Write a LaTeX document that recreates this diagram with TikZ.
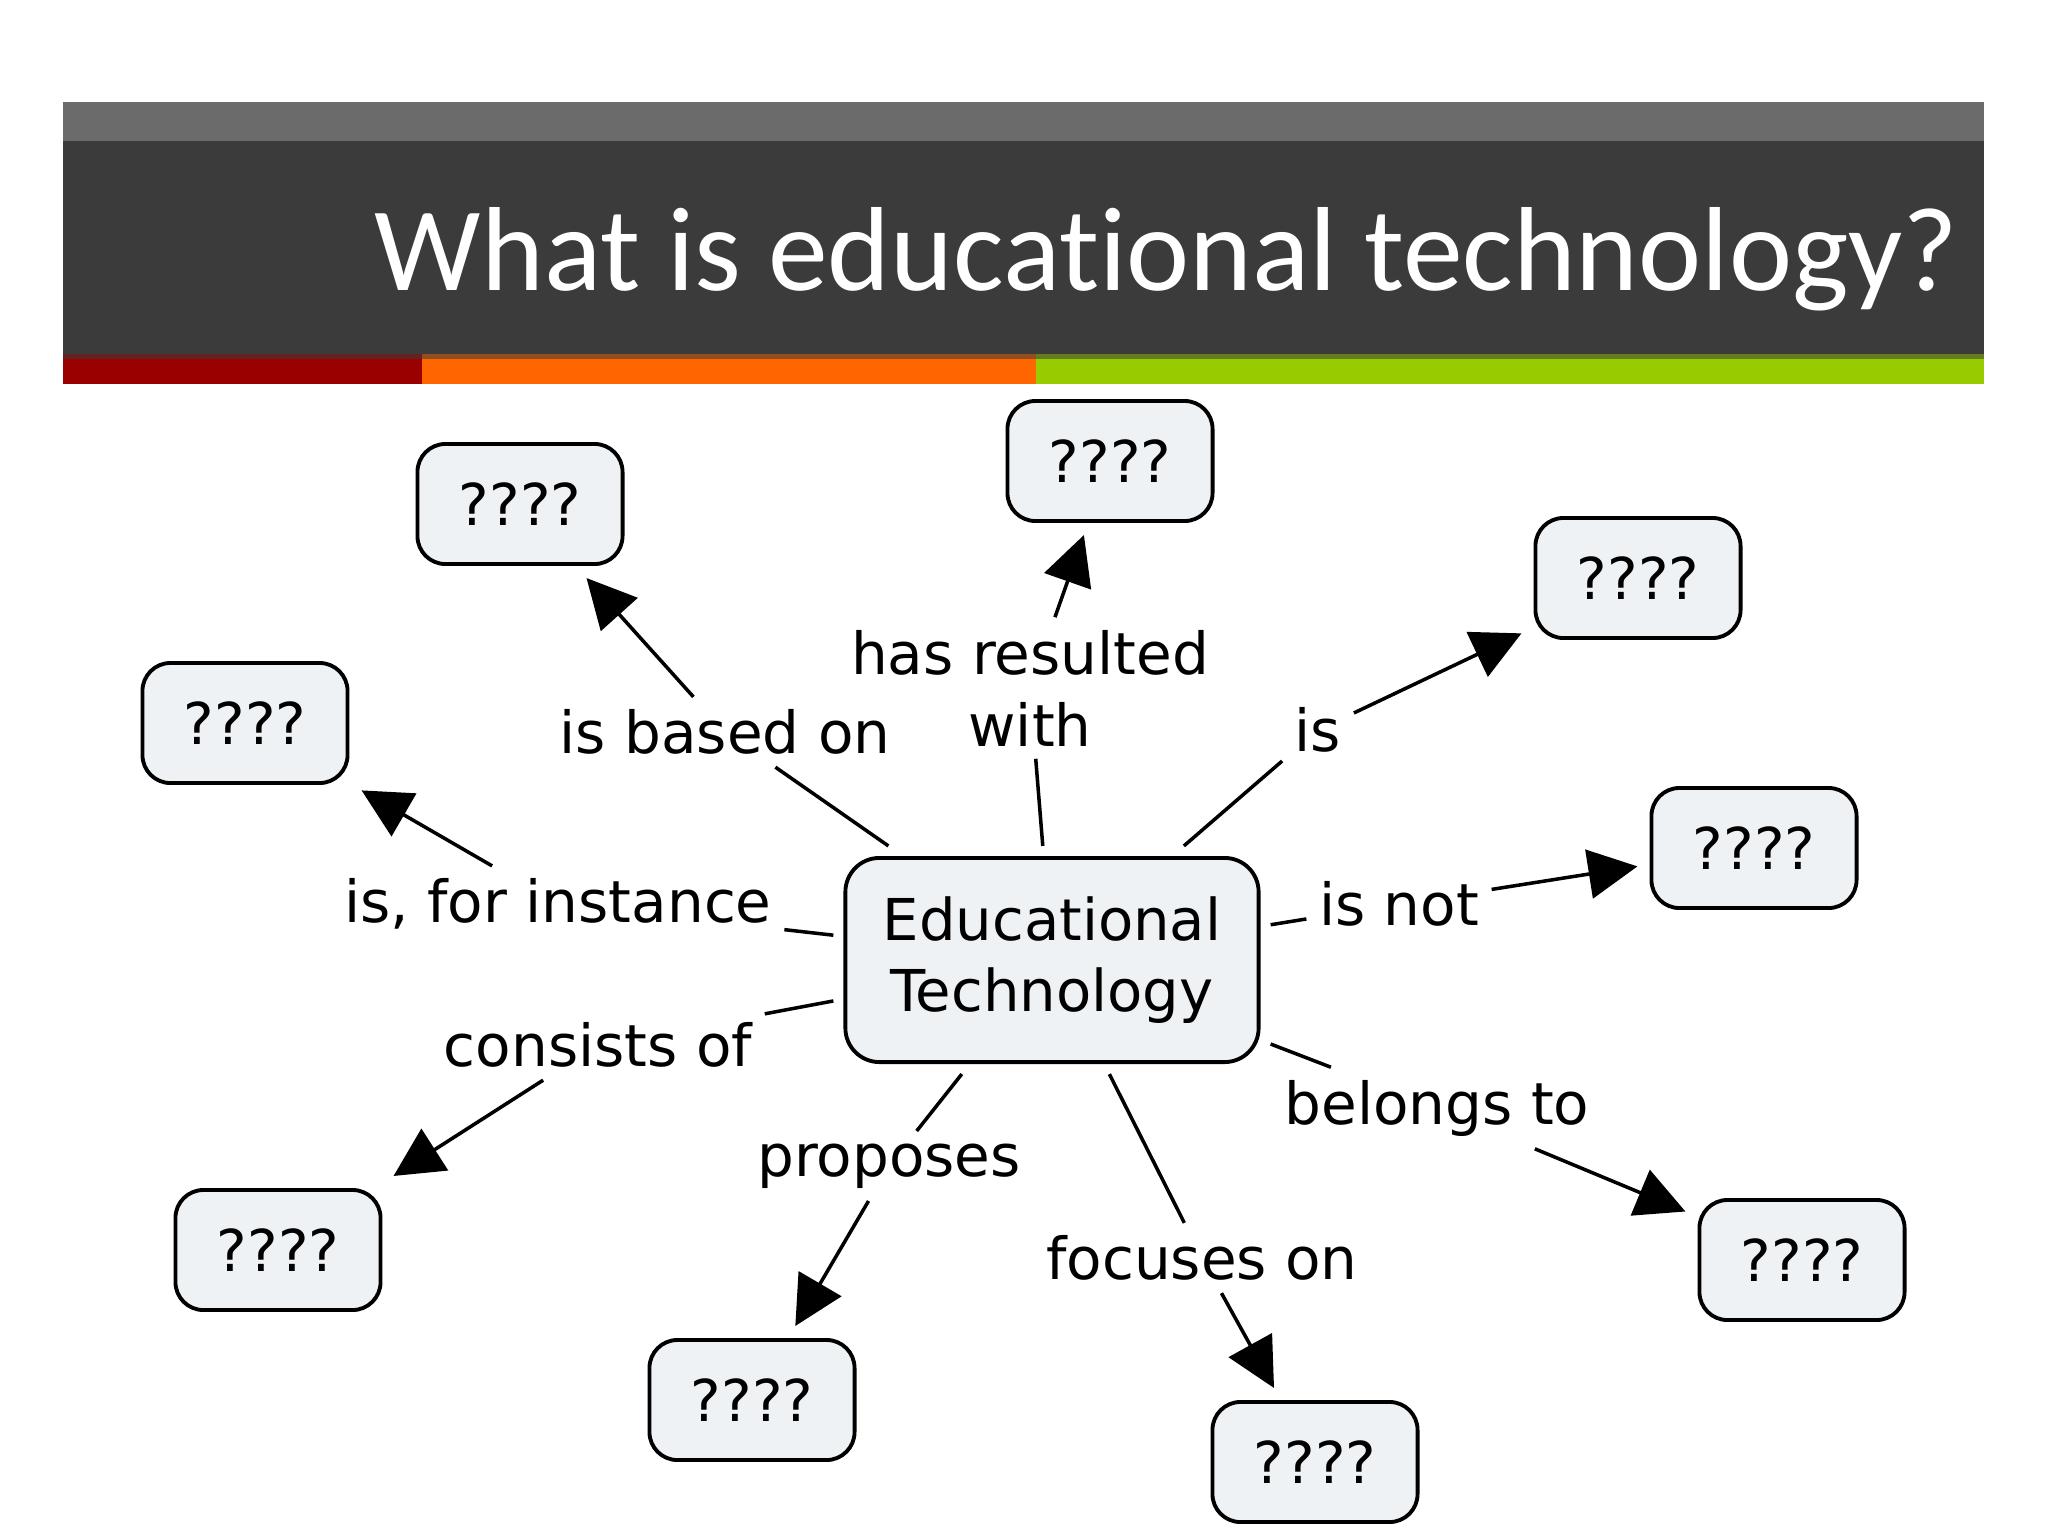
\documentclass[tikz,border=0pt]{standalone}
\usepackage{fontspec}
\setmainfont{DejaVu Sans}
\newfontfamily\titlefont[Ligatures={NoCommon}]{Carlito}
\usetikzlibrary{arrows.meta,positioning}
\definecolor{bandgray}{HTML}{6B6B6B}
\definecolor{banddark}{HTML}{3B3B3B}
\definecolor{stripred}{HTML}{990000}
\definecolor{stripora}{HTML}{FF6600}
\definecolor{stripgreen}{HTML}{99CC00}
\definecolor{conceptfill}{HTML}{EEF2F5}
\tikzset
{
    concept/.style    = {rectangle, rounded corners=0.28cm, draw=black, line width=1.1pt, fill=conceptfill, align=center, minimum width=2.05cm, minimum height=1.2cm, outer sep=0.14cm, font=\fontsize{16.4}{20}\selectfont},
    bigconcept/.style = {concept, rounded corners=0.34cm, minimum width=4.13cm, minimum height=2.04cm, outer sep=0.12cm},
    linkphrase/.style = {align=center, inner sep=0.12cm, font=\fontsize{16.5}{20.5}\selectfont},
    link/.style       = {line width=1pt},
    arrow/.style      = {link, -{Triangle[length=0.49cm, width=0.49cm]}}
}

\begin{document}
\begin{tikzpicture}[x=0.01cm, y=-0.01cm]
   \fill[white] (0,0) rectangle (2048,1536);
   \useasboundingbox (0,0) rectangle (2048,1536);

   % title bar
   \fill[bandgray]   (63,102) rectangle (1984,141);
   \fill[banddark]   (63,141) rectangle (1984,354);
   \fill[stripred!45!banddark]   (63,354)  rectangle (422,359);
   \fill[stripora!45!banddark]   (422,354) rectangle (1036,359);
   \fill[stripgreen!45!banddark] (1036,354) rectangle (1984,359);
   \fill[stripred]   (63,359)   rectangle (422,384);
   \fill[stripora]   (422,359)  rectangle (1036,384);
   \fill[stripgreen] (1036,359) rectangle (1984,384);
   \node (title) [anchor=base east, text=white, inner sep=0pt, font=\titlefont\fontsize{34}{40}\selectfont] at (1959,290) {What is educational technology?};

   % concepts
   \node (et)      [bigconcept] at (1052,960)  {Educational\\Technology};
   \node (qbased)  [concept]    at (520,504)   {????};
   \node (qresult) [concept]    at (1110,461)  {????};
   \node (qis)     [concept]    at (1638,578)  {????};
   \node (qinst)   [concept]    at (245,723)   {????};
   \node (qnot)    [concept]    at (1754,848)  {????};
   \node (qcons)   [concept]    at (278,1250)  {????};
   \node (qprop)   [concept]    at (752,1400)  {????};
   \node (qfocus)  [concept]    at (1315,1462) {????};
   \node (qbelong) [concept]    at (1802,1260) {????};

   % linking phrases
   \node (lbased)  [linkphrase] at (725,732)   {is based on};
   \node (lresult) [linkphrase] at (1030,688)  {has resulted\\with};
   \node (lis)     [linkphrase] at (1318,730)  {is};
   \node (linst)   [linkphrase] at (558,904)   {is, for instance};
   \node (lnot)    [linkphrase] at (1399,904)  {is not};
   \node (lcons)   [linkphrase] at (598,1045)  {consists of};
   \node (lprop)   [linkphrase] at (889,1166)  {proposes};
   \node (lfocus)  [linkphrase] at (1202,1258) {focuses on};
   \node (lbelong) [linkphrase] at (1437,1108) {belongs to};

   \path
      (et)      edge[link]  (lbased)
      (lbased)  edge[arrow] (qbased)
      (et)      edge[link]  (lresult)
      (lresult) edge[arrow] (qresult)
      (et)      edge[link]  (lis)
      (lis)     edge[arrow] (qis)
      (et)      edge[link]  (linst)
      (linst)   edge[arrow] (qinst)
      (et)      edge[link]  (lnot)
      (lnot)    edge[arrow] (qnot)
      (et)      edge[link]  (lcons)
      (lcons)   edge[arrow] (qcons)
      (et)      edge[link]  (lprop)
      (lprop)   edge[arrow] (qprop)
      (et)      edge[link]  (lfocus)
      (lfocus)  edge[arrow] (qfocus)
      (et)      edge[link]  (lbelong)
      (lbelong) edge[arrow] (qbelong);
\end{tikzpicture}
\end{document}
